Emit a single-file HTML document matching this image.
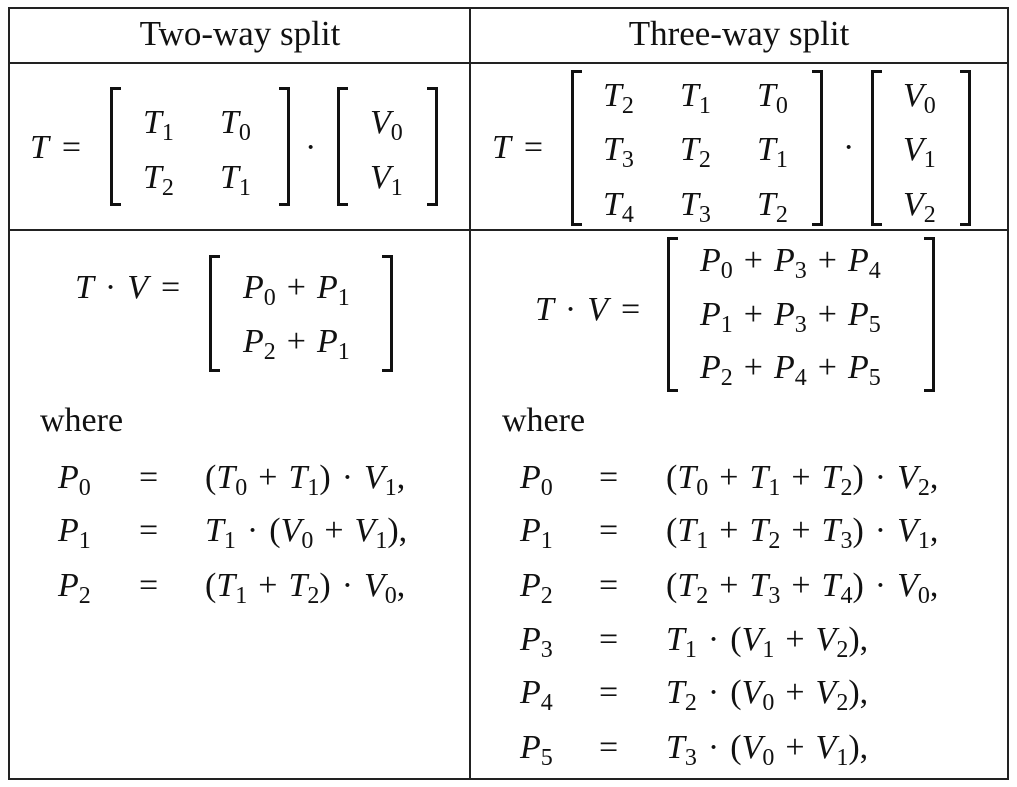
<!DOCTYPE html>
<html><head><meta charset="utf-8"><style>
body{margin:0;background:#fff;width:1017px;height:787px;position:relative;overflow:hidden}
.m{position:absolute;font-family:"Liberation Serif",serif;font-size:34px;line-height:30px;white-space:nowrap;color:#111;margin-top:-2px}
.h{font-size:35px}
i{font-style:italic}
sub{font-size:24px;vertical-align:-7px;line-height:0;font-style:normal}
.b{margin:0 11px}
.r{margin:0 13px}
.ln{position:absolute;background:#222}
.bl,.br{position:absolute;border:3px solid #111;width:11px;box-sizing:border-box}
.bl{border-right:none}
.br{border-left:none}
</style></head><body>
<div class="ln" style="left:8px;top:7px;width:1001px;height:2px"></div>
<div class="ln" style="left:8px;top:778px;width:1001px;height:2px"></div>
<div class="ln" style="left:8px;top:7px;width:2px;height:773px"></div>
<div class="ln" style="left:1007px;top:7px;width:2px;height:773px"></div>
<div class="ln" style="left:469px;top:7px;width:2px;height:773px"></div>
<div class="ln" style="left:8px;top:62px;width:1001px;height:2px"></div>
<div class="ln" style="left:8px;top:229px;width:1001px;height:2px"></div>

<div class="m h" style="left:10px;width:460px;text-align:center;top:21px">Two-way split</div>
<div class="m h" style="left:470px;width:538px;text-align:center;top:21px">Three-way split</div>

<!-- row 2 left -->
<div class="m" style="left:30px;top:135px"><i>T</i><span class="r">=</span></div>
<div class="bl" style="left:110px;top:87px;height:119px"></div>
<div class="br" style="left:279px;top:87px;height:119px"></div>
<div class="m" style="left:143px;top:110px"><i>T</i><sub>1</sub></div>
<div class="m" style="left:220px;top:110px"><i>T</i><sub>0</sub></div>
<div class="m" style="left:143px;top:165px"><i>T</i><sub>2</sub></div>
<div class="m" style="left:220px;top:165px"><i>T</i><sub>1</sub></div>
<div class="m" style="left:305px;top:135px">·</div>
<div class="bl" style="left:337px;top:87px;height:119px"></div>
<div class="br" style="left:427px;top:87px;height:119px"></div>
<div class="m" style="left:370px;top:110px"><i>V</i><sub>0</sub></div>
<div class="m" style="left:370px;top:165px"><i>V</i><sub>1</sub></div>

<!-- row 2 right -->
<div class="m" style="left:492px;top:135px"><i>T</i><span class="r">=</span></div>
<div class="bl" style="left:571px;top:70px;height:156px"></div>
<div class="br" style="left:812px;top:70px;height:156px"></div>
<div class="m" style="left:603px;top:83px"><i>T</i><sub>2</sub></div>
<div class="m" style="left:680px;top:83px"><i>T</i><sub>1</sub></div>
<div class="m" style="left:757px;top:83px"><i>T</i><sub>0</sub></div>
<div class="m" style="left:603px;top:137px"><i>T</i><sub>3</sub></div>
<div class="m" style="left:680px;top:137px"><i>T</i><sub>2</sub></div>
<div class="m" style="left:757px;top:137px"><i>T</i><sub>1</sub></div>
<div class="m" style="left:603px;top:192px"><i>T</i><sub>4</sub></div>
<div class="m" style="left:680px;top:192px"><i>T</i><sub>3</sub></div>
<div class="m" style="left:757px;top:192px"><i>T</i><sub>2</sub></div>
<div class="m" style="left:843px;top:135px">·</div>
<div class="bl" style="left:871px;top:70px;height:156px"></div>
<div class="br" style="left:960px;top:70px;height:156px"></div>
<div class="m" style="left:903px;top:83px"><i>V</i><sub>0</sub></div>
<div class="m" style="left:903px;top:137px"><i>V</i><sub>1</sub></div>
<div class="m" style="left:903px;top:192px"><i>V</i><sub>2</sub></div>

<!-- row 3 left -->
<div class="m" style="left:75px;top:275px"><i>T</i><span class="b">·</span><i>V</i><span class="r">=</span></div>
<div class="bl" style="left:209px;top:255px;height:117px"></div>
<div class="br" style="left:382px;top:255px;height:117px"></div>
<div class="m" style="left:243px;top:275px"><i>P</i><sub>0</sub><span class="b">+</span><i>P</i><sub>1</sub></div>
<div class="m" style="left:243px;top:329px"><i>P</i><sub>2</sub><span class="b">+</span><i>P</i><sub>1</sub></div>
<div class="m" style="left:40px;top:408px">where</div>
<div class="m" style="left:58px;top:465px"><i>P</i><sub>0</sub></div>
<div class="m" style="left:58px;top:518px"><i>P</i><sub>1</sub></div>
<div class="m" style="left:58px;top:573px"><i>P</i><sub>2</sub></div>
<div class="m" style="left:139px;top:465px">=</div>
<div class="m" style="left:139px;top:518px">=</div>
<div class="m" style="left:139px;top:573px">=</div>
<div class="m" style="left:205px;top:465px">(<i>T</i><sub>0</sub><span class="b">+</span><i>T</i><sub>1</sub>)<span class="b">·</span><i>V</i><sub>1</sub>,</div>
<div class="m" style="left:205px;top:518px"><i>T</i><sub>1</sub><span class="b">·</span>(<i>V</i><sub>0</sub><span class="b">+</span><i>V</i><sub>1</sub>),</div>
<div class="m" style="left:205px;top:573px">(<i>T</i><sub>1</sub><span class="b">+</span><i>T</i><sub>2</sub>)<span class="b">·</span><i>V</i><sub>0</sub>,</div>

<!-- row 3 right -->
<div class="m" style="left:535px;top:297px"><i>T</i><span class="b">·</span><i>V</i><span class="r">=</span></div>
<div class="bl" style="left:667px;top:237px;height:155px"></div>
<div class="br" style="left:924px;top:237px;height:155px"></div>
<div class="m" style="left:700px;top:248px"><i>P</i><sub>0</sub><span class="b">+</span><i>P</i><sub>3</sub><span class="b">+</span><i>P</i><sub>4</sub></div>
<div class="m" style="left:700px;top:302px"><i>P</i><sub>1</sub><span class="b">+</span><i>P</i><sub>3</sub><span class="b">+</span><i>P</i><sub>5</sub></div>
<div class="m" style="left:700px;top:355px"><i>P</i><sub>2</sub><span class="b">+</span><i>P</i><sub>4</sub><span class="b">+</span><i>P</i><sub>5</sub></div>
<div class="m" style="left:502px;top:408px">where</div>
<div class="m" style="left:520px;top:465px"><i>P</i><sub>0</sub></div>
<div class="m" style="left:520px;top:518px"><i>P</i><sub>1</sub></div>
<div class="m" style="left:520px;top:573px"><i>P</i><sub>2</sub></div>
<div class="m" style="left:520px;top:627px"><i>P</i><sub>3</sub></div>
<div class="m" style="left:520px;top:680px"><i>P</i><sub>4</sub></div>
<div class="m" style="left:520px;top:735px"><i>P</i><sub>5</sub></div>
<div class="m" style="left:599px;top:465px">=</div>
<div class="m" style="left:599px;top:518px">=</div>
<div class="m" style="left:599px;top:573px">=</div>
<div class="m" style="left:599px;top:627px">=</div>
<div class="m" style="left:599px;top:680px">=</div>
<div class="m" style="left:599px;top:735px">=</div>
<div class="m" style="left:666px;top:465px">(<i>T</i><sub>0</sub><span class="b">+</span><i>T</i><sub>1</sub><span class="b">+</span><i>T</i><sub>2</sub>)<span class="b">·</span><i>V</i><sub>2</sub>,</div>
<div class="m" style="left:666px;top:518px">(<i>T</i><sub>1</sub><span class="b">+</span><i>T</i><sub>2</sub><span class="b">+</span><i>T</i><sub>3</sub>)<span class="b">·</span><i>V</i><sub>1</sub>,</div>
<div class="m" style="left:666px;top:573px">(<i>T</i><sub>2</sub><span class="b">+</span><i>T</i><sub>3</sub><span class="b">+</span><i>T</i><sub>4</sub>)<span class="b">·</span><i>V</i><sub>0</sub>,</div>
<div class="m" style="left:666px;top:627px"><i>T</i><sub>1</sub><span class="b">·</span>(<i>V</i><sub>1</sub><span class="b">+</span><i>V</i><sub>2</sub>),</div>
<div class="m" style="left:666px;top:680px"><i>T</i><sub>2</sub><span class="b">·</span>(<i>V</i><sub>0</sub><span class="b">+</span><i>V</i><sub>2</sub>),</div>
<div class="m" style="left:666px;top:735px"><i>T</i><sub>3</sub><span class="b">·</span>(<i>V</i><sub>0</sub><span class="b">+</span><i>V</i><sub>1</sub>),</div>
</body></html>
